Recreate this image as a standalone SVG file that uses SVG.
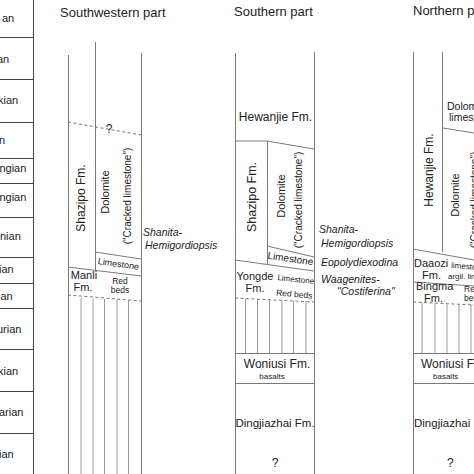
<svg xmlns="http://www.w3.org/2000/svg" width="474" height="474" viewBox="0 0 474 474">
<style>
text{font-family:"Liberation Sans",Arial,sans-serif;fill:#222}
.st{font-size:11px}
.ti{font-size:13px}
.fm{font-size:12px}
.sm{font-size:8.5px}
.fo{font-size:10.5px;font-style:italic}
.m{text-anchor:middle}
.ln{stroke:#7a7a7a;stroke-width:1;fill:none}
.hl{stroke:#9a9a9a;stroke-width:1;fill:none}
.sl{stroke:#444;stroke-width:1;fill:none}
.da{stroke:#777;stroke-width:1;stroke-dasharray:3 2.5;fill:none}
</style>
<rect width="474" height="474" fill="#fff"/>

<g id="stages">
<path class="sl" d="M33.5,0V474M0,37.5H33.5M0,79.5H33.5M0,122.5H33.5M0,158.5H33.5M0,183.5H33.5M0,217.5H33.5M0,257.5H33.5M0,283.5H33.5M0,308.5H33.5M0,349.5H33.5M0,391.5H33.5M0,433.5H33.5"/>
<text class="st" x="2" y="22">an</text>
<text class="st" x="-3" y="63">an</text>
<text class="st" x="-2" y="104">kian</text>
<text class="st" x="-1" y="144">n</text>
<text class="st" x="-3" y="172">ingian</text>
<text class="st" x="-3" y="201">ingian</text>
<text class="st" x="0" y="240">nian</text>
<text class="st" x="-1" y="273">ian</text>
<text class="st" x="0.5" y="300">an</text>
<text class="st" x="-3" y="333">urian</text>
<text class="st" x="-2" y="375">kian</text>
<text class="st" x="-1" y="416">arian</text>
<text class="st" x="-1" y="458">ian</text>
</g>

<g id="southwestern">
<text class="ti" x="60" y="17">Southwestern  part</text>
<path class="ln" d="M68.5,55V474M95.5,42V270M141.5,53V474"/>
<path class="da" d="M68,122L141,135M68,295L141,301"/>
<text class="fm" x="109" y="133" text-anchor="middle">?</text>
<path class="ln" d="M95,252L141,259M68,267L141,276"/>
<path class="hl" d="M81,298V474M93,298.5V474M104.5,299V474M117,299.5V474M128.5,300V474"/>
<text class="fm m" transform="translate(84.5,198) rotate(-90)">Shazipo Fm.</text>
<text class="m" font-size="11" transform="translate(109,192) rotate(-90)">Dolomite</text>
<text class="m" font-size="10" transform="translate(130.5,196) rotate(-90)">("Cracked limestone")</text>
<text class="m" font-size="9" transform="translate(118,267) rotate(8)">Limestone</text>
<text class="m" font-size="11" x="84" y="279">Manli</text>
<text class="m" font-size="11" x="83" y="291">Fm.</text>
<text class="sm m" x="120" y="284">Red</text>
<text class="sm m" x="120" y="293">beds</text>
<text class="fo" x="143" y="236">Shanita-</text>
<text class="fo" x="145" y="249">Hemigordiopsis</text>
</g>

<g id="southern">
<text class="ti" x="234" y="16">Southern  part</text>
<path class="ln" d="M235.5,53V474M314.5,52V474"/>
<path class="ln" d="M235,141H267L314,149M267.5,141V265M267,246L314,257M235,260L314,271"/>
<path class="da" d="M235,298L314,302"/>
<path class="hl" d="M245.5,299V353M257.5,299V353M269.5,300V353M282,300V353M293.5,301V353M306,301V353"/>
<path class="ln" d="M235,353.5H314M235,383.5H314"/>
<text class="fm m" x="275.5" y="121">Hewanjie Fm.</text>
<text class="m" font-size="12.5" transform="translate(255.5,197) rotate(-90)">Shazipo Fm.</text>
<text class="m" font-size="11" transform="translate(285,196) rotate(-90)">Dolomite</text>
<text class="m" font-size="10" transform="translate(302,200) rotate(-90)">("Cracked limestone")</text>
<text class="m" font-size="10" transform="translate(290,262) rotate(8)">Limestone</text>
<text class="m" font-size="11" x="255" y="280">Yongde</text>
<text class="m" font-size="11" x="255" y="292">Fm.</text>
<text class="m" font-size="8" transform="translate(295.5,282) rotate(6)">Limestone</text>
<text class="m" font-size="8.5" transform="translate(294,297) rotate(5)">Red beds</text>
<text class="fm m" x="277" y="368">Woniusi  Fm.</text>
<text class="m" font-size="8" x="272" y="379">basalts</text>
<text class="m" font-size="11.5" x="275" y="427">Dingjiazhai  Fm.</text>
<text class="fm m" x="275" y="467">?</text>
<text class="fo" x="319" y="233">Shanita-</text>
<text class="fo" x="321" y="247">Hemigordiopsis</text>
<text class="fo" x="321" y="266">Eopolydiexodina</text>
<text class="fo" x="321" y="283">Waagenites-</text>
<text class="fo" x="337" y="295">"Costiferina"</text>
</g>

<g id="northern">
<text class="ti" x="413" y="15">Northern  part</text>
<path class="ln" d="M413.5,52V474M442.5,52V252"/>
<path class="ln" d="M443,128L474,133M413,249L474,260M413,282L474,286"/>
<path class="da" d="M413,302L474,305"/>
<path class="hl" d="M422,303V353M435,303V353M447,304V353M459,304V353M471,304V353"/>
<path class="ln" d="M413,353.5H474M413,383.5H474"/>
<text font-size="10.5" x="447" y="110">Dolomitic</text>
<text font-size="10.5" x="449" y="121">limestone</text>
<text class="fm m" transform="translate(432.5,170) rotate(-90)">Hewanjie Fm.</text>
<text class="m" font-size="11" transform="translate(459,195) rotate(-90)">Dolomite</text>
<text class="m" font-size="10" transform="translate(477.5,200) rotate(-90)">("Cracked limestone")</text>
<text font-size="11" x="414" y="267">Daaozi</text>
<text font-size="11" x="422" y="278.5">Fm.</text>
<text font-size="8" transform="translate(451,268) rotate(4)">limestone</text>
<text font-size="8" x="448" y="279">argil. limestone</text>
<text font-size="11" x="416" y="290">Bingma</text>
<text font-size="11" x="424" y="302">Fm.</text>
<text class="sm" x="464" y="292">Red</text>
<text class="sm" x="464" y="301">beds</text>
<text class="fm" x="421" y="368">Woniusi  Fm.</text>
<text font-size="8" x="433" y="379">basalts</text>
<text font-size="11.5" x="414" y="427">Dingjiazhai  Fm.</text>
<text class="fm" x="447" y="467">?</text>
</g>
</svg>
